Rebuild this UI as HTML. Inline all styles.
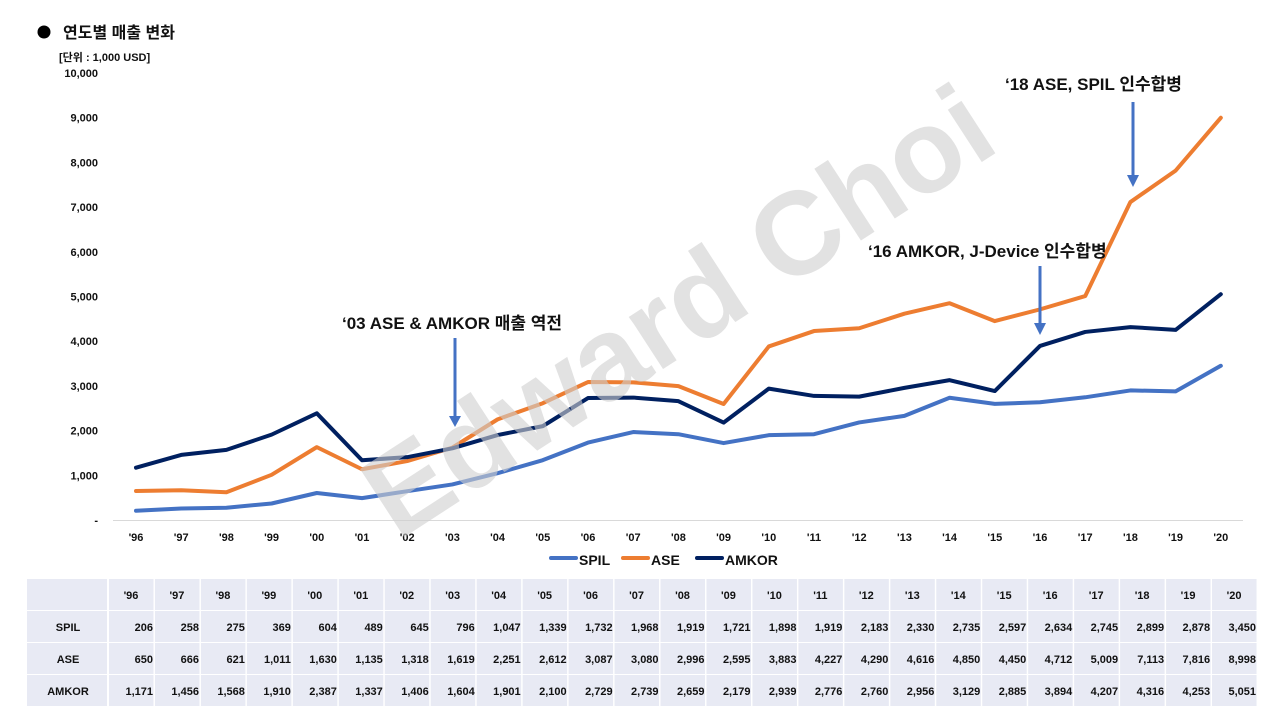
<!DOCTYPE html>
<html><head><meta charset="utf-8">
<style>
body{margin:0;background:#fff;width:1280px;height:720px;overflow:hidden;font-family:"Liberation Sans","Noto Sans CJK KR",sans-serif;}
svg text{font-family:"Liberation Sans","Noto Sans CJK KR",sans-serif;font-weight:bold;}
</style></head><body>
<svg id="c" width="1280" height="720" xmlns="http://www.w3.org/2000/svg">
<circle cx="44" cy="32" r="6.5" fill="#000"/>
<text x="63" y="38" font-size="16" fill="#111">연도별 매출 변화</text>
<text x="59" y="61" font-size="11" fill="#111">[단위 : 1,000 USD]</text>
<g id="yt"></g><g id="xt"></g>
<line x1="113" y1="520.5" x2="1243" y2="520.5" stroke="#d9d9d9"/>
<g id="lines"></g>
<text x="700" y="345" text-anchor="middle" font-size="118" fill="#cfcfcf" fill-opacity="0.6" transform="rotate(-33 700 345)">Edward Choi</text>
<g id="legend"></g>
<g>
<text x="342" y="329" font-size="17" fill="#111">‘03 ASE &amp; AMKOR 매출 역전</text>
<line x1="455" y1="338" x2="455" y2="416" stroke="#4472c4" stroke-width="3"/>
<polygon points="449,416 461,416 455,427" fill="#4472c4"/>
</g>
<g>
<text x="868" y="257" font-size="17" fill="#111">‘16 AMKOR, J-Device 인수합병</text>
<line x1="1040" y1="266" x2="1040" y2="323" stroke="#4472c4" stroke-width="3"/>
<polygon points="1034,323 1046,323 1040,335" fill="#4472c4"/>
</g>
<g>
<text x="1005" y="90" font-size="17" fill="#111">‘18 ASE, SPIL 인수합병</text>
<line x1="1133" y1="102" x2="1133" y2="175" stroke="#4472c4" stroke-width="3"/>
<polygon points="1127,175 1139,175 1133,187" fill="#4472c4"/>
</g>
<g id="table"></g>
</svg>
<script>
const years=["'96","'97","'98","'99","'00","'01","'02","'03","'04","'05","'06","'07","'08","'09","'10","'11","'12","'13","'14","'15","'16","'17","'18","'19","'20"];
const spil=[206,258,275,369,604,489,645,796,1047,1339,1732,1968,1919,1721,1898,1919,2183,2330,2735,2597,2634,2745,2899,2878,3450];
const ase=[650,666,621,1011,1630,1135,1318,1619,2251,2612,3087,3080,2996,2595,3883,4227,4290,4616,4850,4450,4712,5009,7113,7816,8998];
const amkor=[1171,1456,1568,1910,2387,1337,1406,1604,1901,2100,2729,2739,2659,2179,2939,2776,2760,2956,3129,2885,3894,4207,4316,4253,5051];
const yTicks=[0,1000,2000,3000,4000,5000,6000,7000,8000,9000,10000];
const NS="http://www.w3.org/2000/svg";
const X=i=>136+i*45.2, Y=v=>520-v*0.0447;
const fmt=v=>v.toLocaleString('en-US');
function mk(t,a,p){const e=document.createElementNS(NS,t);for(const k in a)e.setAttribute(k,a[k]);p.appendChild(e);return e;}
const yt=document.getElementById('yt');
yTicks.forEach(v=>{const t=mk('text',{x:98,y:Y(v)+4,'text-anchor':'end','font-size':11,fill:'#111'},yt);t.textContent=v===0?'-':fmt(v);

});
const xt=document.getElementById('xt');
years.forEach((y,i)=>{const t=mk('text',{x:X(i),y:541,'text-anchor':'middle','font-size':11,fill:'#111'},xt);t.textContent=y;

});
const series=[["SPIL",spil,"#4472c4"],["ASE",ase,"#ed7d31"],["AMKOR",amkor,"#002060"]];
const lg=document.getElementById('lines');
series.forEach(([n,d,c])=>{const p=mk('polyline',{points:d.map((v,i)=>X(i)+','+Y(v)).join(' '),fill:'none',stroke:c,'stroke-width':4,'stroke-linejoin':'round','stroke-linecap':'round'},lg);

});
const leg=document.getElementById('legend');const lx=[549,621,695];
series.forEach(([n,d,c],k)=>{const g=mk('g',{},leg);


mk('line',{x1:lx[k]+2,y1:558,x2:lx[k]+27,y2:558,stroke:c,'stroke-width':4,'stroke-linecap':'round'},g);
const t=mk('text',{x:lx[k]+30,y:565,'font-size':14,fill:'#111'},g);t.textContent=n;});
const tb=document.getElementById('table');
const rows=[["",years],["SPIL",spil.map(fmt)],["ASE",ase.map(fmt)],["AMKOR",amkor.map(fmt)]];
const rt=[579,611,643,675];
rows.forEach((r,ri)=>{
 const c0=mk('rect',{x:27,y:rt[ri],width:80,height:31,fill:'#e8eaf4'},tb);
 
 
 const h=mk('text',{x:68,y:rt[ri]+20,'text-anchor':'middle','font-size':11,fill:'#111'},tb);h.textContent=r[0];
 r[1].forEach((v,i)=>{const x0=109+i*45.96;
  const cell=mk('rect',{x:x0,y:rt[ri],width:44.5,height:31,fill:'#e8eaf4'},tb);
  
  
  const t=ri===0?mk('text',{x:x0+22,y:rt[ri]+20,'text-anchor':'middle','font-size':11,fill:'#111'},tb):mk('text',{x:x0+44,y:rt[ri]+20,'text-anchor':'end','font-size':11,fill:'#111'},tb);
  t.textContent=v;});
});
</script>
</body></html>
